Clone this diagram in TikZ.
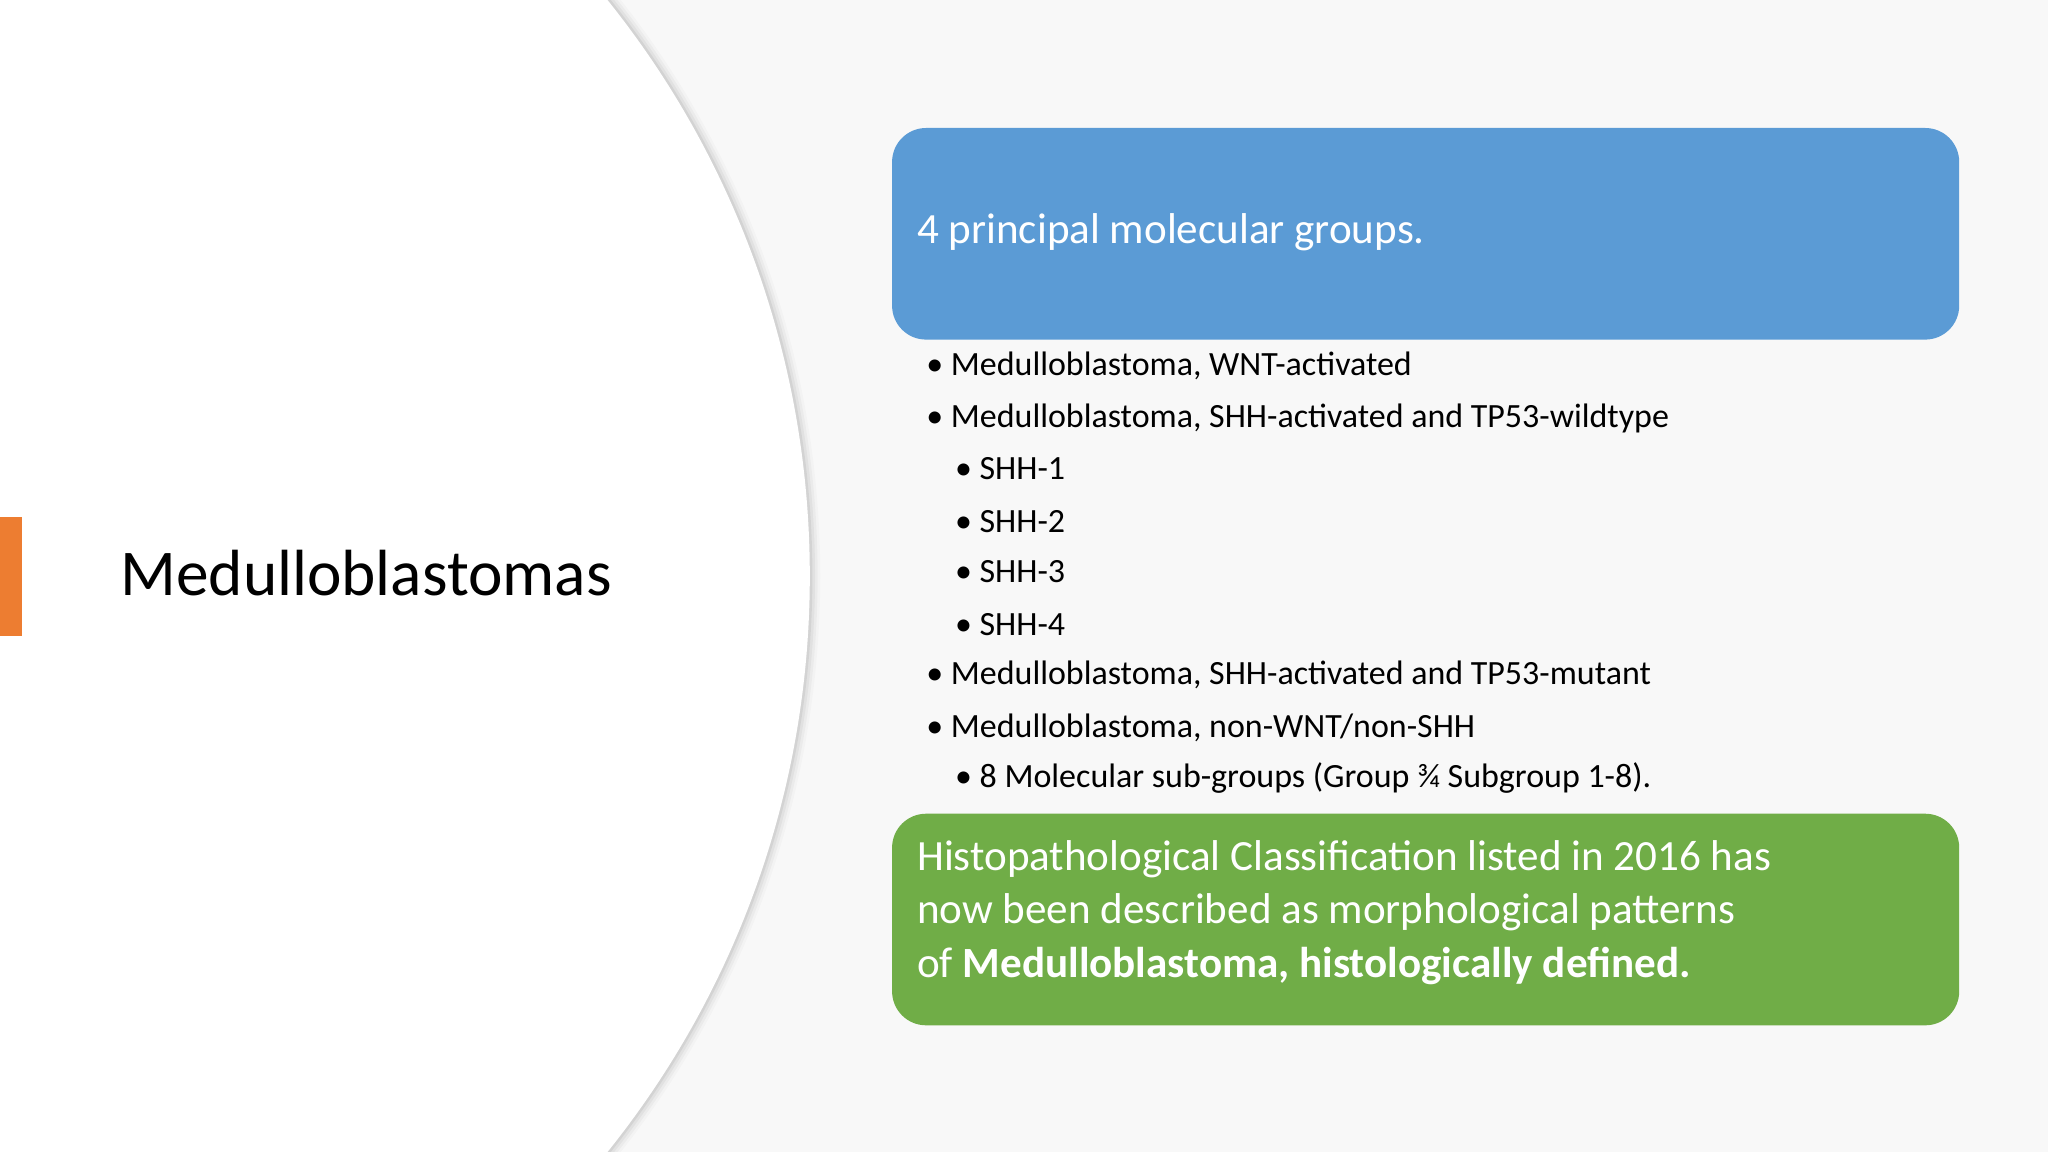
\documentclass[tikz,border=0pt]{standalone}
\usepackage{fontspec}
\setmainfont{Carlito}
\definecolor{bgc}{HTML}{F8F8F8}
\definecolor{blu}{HTML}{5B9BD5}
\definecolor{grn}{HTML}{70AD47}
\definecolor{org}{HTML}{ED7D31}
\begin{document}
\begin{tikzpicture}[x=1pt,y=-1pt,
  bul/.style={anchor=west,font=\fontsize{26}{30}\selectfont,inner sep=0pt},
  box/.style={rounded corners=26pt,draw=none}]
\useasboundingbox (0,0) rectangle (1568,882);
\fill[bgc] (0,0) rectangle (1568,882);
\begin{scope}
\clip (0,0) rectangle (1568,882);
\foreach \i/\o in {8/0.02,6/0.03,4/0.04,2/0.06}{\fill[black,opacity=\o] (-85,441) circle (705+\i);}
\fill[white] (-85,441) circle (705);
\end{scope}
\fill[org] (0,396) rectangle (17,487);
\node[anchor=west,font=\fontsize{50}{60}\selectfont,inner sep=0pt] (title) at (92,439) {Medulloblastomas};
\fill[blu,box] (683,98) rectangle (1500,260);
\node[anchor=west,text=white,font=\fontsize{33}{40}\selectfont,inner sep=0pt] (bt) at (702,178) {4 principal molecular groups.};
\node[bul] (l1) at (709,280) {\textbullet\ Medulloblastoma, WNT-activated};
\node[bul] (l2) at (709,320) {\textbullet\ Medulloblastoma, SHH-activated and TP53-wildtype};
\node[bul] (l3) at (731,359) {\textbullet\ SHH-1};
\node[bul] (l4) at (731,399) {\textbullet\ SHH-2};
\node[bul] (l5) at (731,438) {\textbullet\ SHH-3};
\node[bul] (l6) at (731,478) {\textbullet\ SHH-4};
\node[bul] (l7) at (709,517) {\textbullet\ Medulloblastoma, SHH-activated and TP53-mutant};
\node[bul] (l8) at (709,557) {\textbullet\ Medulloblastoma, non-WNT/non-SHH};
\node[bul] (l9) at (731,596) {\textbullet\ 8 Molecular sub-groups (Group ¾ Subgroup 1-8).};
\fill[grn,box] (683,623) rectangle (1500,785);
\node[anchor=north west,text=white,align=left,font=\fontsize{33}{41}\selectfont,inner sep=0pt] (gt) at (702,643) {Histopathological Classification listed in 2016 has\\now been described as morphological patterns\\of \textbf{Medulloblastoma, histologically defined.}};
\end{tikzpicture}
\end{document}
